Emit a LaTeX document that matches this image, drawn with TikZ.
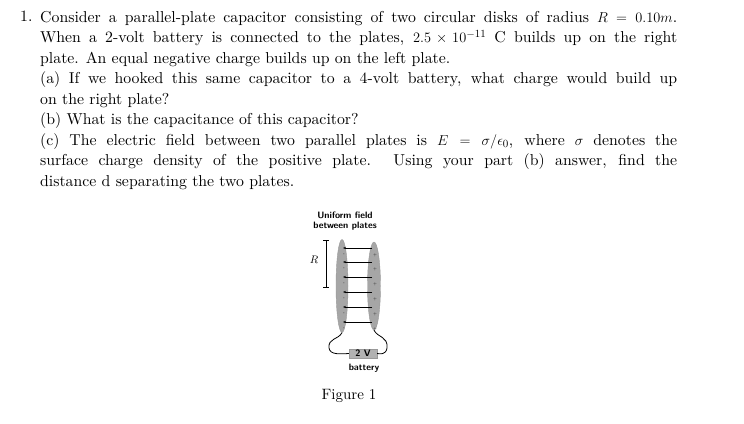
\documentclass[tikz,border=0pt]{standalone}
\usepackage{fontspec}
\setmainfont{lmroman10-regular.otf}[ItalicFont=lmroman10-italic.otf,BoldFont=lmroman10-bold.otf]
\usetikzlibrary{arrows.meta,shapes.geometric}
\begin{document}
\begin{tikzpicture}[x=1pt,y=-1pt,
  plate/.style={fill=gray!70,draw=gray!80,ellipse,inner sep=0pt},
  fld/.style={-{Stealth[length=3pt]},line width=0.8pt},
  body/.style={font=\fontsize{15.8}{20.5}\selectfont},
  small/.style={font=\sffamily\fontsize{9.3}{10.5}\selectfont\bfseries}]
\useasboundingbox (0,0) rectangle (744,423);
\node[body,anchor=north west,inner sep=0pt] (num) at (20,11) {1.};
\node[body,anchor=north west,inner sep=0pt,text width=637pt,align=justify] (txt) at (40,11) {Consider a parallel-plate capacitor consisting of two circular disks of radius $R=0.10m$.\linebreak When a 2-volt battery is connected to the plates, $2.5\times10^{-11}$ C builds up on the right\linebreak plate. An equal negative charge builds up on the left plate.\\
(a) If we hooked this same capacitor to a 4-volt battery, what charge would build up\linebreak on the right plate?\\
(b) What is the capacitance of this capacitor?\\
(c) The electric field between two parallel plates is $E=\sigma/\epsilon_0$, where $\sigma$ denotes the\linebreak surface charge density of the positive plate. Using your part (b) answer, find the\linebreak distance d separating the two plates.};
\node[small,align=center] (title) at (345,221) {Uniform field\\between plates};
\node[plate,minimum width=12pt,minimum height=93pt] (lp) at (342,286) {};
\node[plate,minimum width=13pt,minimum height=88pt] (rp) at (374,286) {};
\foreach \y in {248,262,277,292,307,322}{
  \draw[fld] (372,\y) -- (343,\y);
  \node[font=\tiny] at (375,\y+7) {+};
  \node[font=\tiny] at (344,\y+7) {-};
}
\draw (323,240) -- (329,240) (326,240) -- (326,287) (323,287) -- (329,287);
\node[font=\fontsize{11}{12}\selectfont] (R) at (314,260) {$R$};
\node[draw=gray!80,fill=gray!60,minimum width=28pt,minimum height=9pt,inner sep=0pt,small] (bat) at (363,353.5) {2 V};
\draw[line width=0.8pt] (lp.south) .. controls (338,340) and (328,338) .. (329,348) .. controls (330,355) and (340,354) .. (bat.west);
\draw[line width=0.8pt] (rp.south) .. controls (378,338) and (388,336) .. (387,348) .. controls (386,355) and (380,354) .. (bat.east);
\node[small] (batl) at (364,368) {battery};
\node[font=\fontsize{15}{18}\selectfont] (fig) at (349,396) {Figure 1};
\end{tikzpicture}
\end{document}
